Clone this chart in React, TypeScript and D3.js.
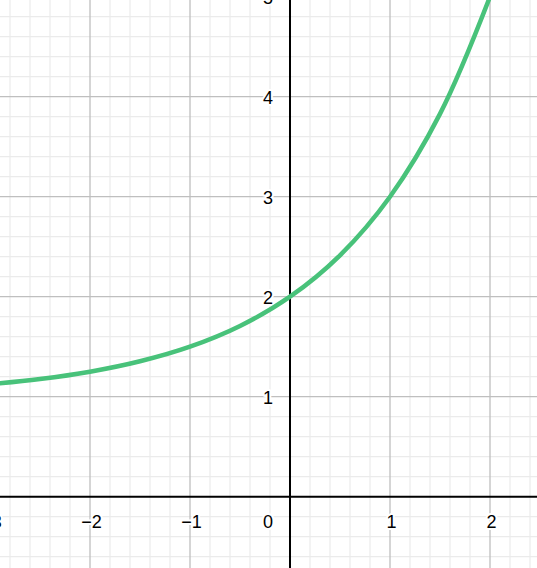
import React from "react";
import * as d3 from "d3";

const W = 537;
const H = 568;

const xTicks = [-3, -2, -1, 1, 2];
const yTicks = [1, 2, 3, 4, 5];
const xTickLabels = ["−3", "−2", "−1", "1", "2"];
const yTickLabels = ["1", "2", "3", "4", "5"];

// Curve points
const curveX = [-3.2, -3, -2.5, -2, -1.5, -1, -0.5, 0, 0.5, 1, 1.5, 2, 2.1];
const curveY = [1.109, 1.125, 1.177, 1.25, 1.354, 1.5, 1.707, 2, 2.414, 3, 3.828, 5, 5.287];

export default function App() {
  const x = d3.scaleLinear().domain([-2.9, 2.47]).range([0, W]);
  const y = d3.scaleLinear().domain([-0.713, 4.967]).range([H, 0]);

  const minorX = d3.range(-15, 13).map((i) => i * 0.2).filter((v) => Math.abs(v - Math.round(v)) > 1e-6);
  const minorY = d3.range(-4, 26).map((i) => i * 0.2).filter((v) => Math.abs(v - Math.round(v)) > 1e-6);
  const majorX = [-3, -2, -1, 1, 2];
  const majorY = [1, 2, 3, 4, 5];

  const pts: [number, number][] = curveX.map((v, i) => [v, curveY[i]]);
  const line = d3
    .line<[number, number]>()
    .x((d) => x(d[0]))
    .y((d) => y(d[1]))
    .curve(d3.curveCatmullRom.alpha(0.5));

  const labelStyle: React.CSSProperties = {
    fontFamily: "'Liberation Sans', Arial, sans-serif",
    fontSize: 18,
    fill: "#000",
    stroke: "#fff",
    strokeWidth: 4,
    paintOrder: "stroke",
    strokeLinejoin: "round",
  };

  return (
    <svg
      width={W}
      height={H}
      style={{ position: "fixed", left: 0, top: 0, background: "#fff" }}
    >
      <rect x={0} y={0} width={W} height={H} fill="#fff" />
      {minorX.map((v) => (
        <line key={"mx" + v} x1={x(v)} x2={x(v)} y1={0} y2={H} stroke="#ebebeb" strokeWidth={1.2} />
      ))}
      {minorY.map((v) => (
        <line key={"my" + v} x1={0} x2={W} y1={y(v)} y2={y(v)} stroke="#ebebeb" strokeWidth={1.2} />
      ))}
      {majorX.map((v) => (
        <line key={"Mx" + v} x1={x(v)} x2={x(v)} y1={0} y2={H} stroke="#bfbfbf" strokeWidth={1.3} />
      ))}
      {majorY.map((v) => (
        <line key={"My" + v} x1={0} x2={W} y1={y(v)} y2={y(v)} stroke="#bfbfbf" strokeWidth={1.3} />
      ))}
      <line x1={0} x2={W} y1={y(0)} y2={y(0)} stroke="#000" strokeWidth={2} />
      <line x1={x(0)} x2={x(0)} y1={0} y2={H} stroke="#000" strokeWidth={2} />

      {xTicks.map((v, i) => (
        <text key={"xl" + v} x={x(v) + 1.5} y={y(0) + 31} textAnchor="middle" style={labelStyle}>
          {xTickLabels[i]}
        </text>
      ))}
      <text x={x(0) - 17} y={y(0) + 31} textAnchor="end" style={labelStyle}>
        0
      </text>
      {yTicks.map((v, i) => (
        <text key={"yl" + v} x={x(0) - 17} y={y(v) + 7} textAnchor="end" style={labelStyle}>
          {yTickLabels[i]}
        </text>
      ))}

      <path d={line(pts) || ""} fill="none" stroke="#48c27a" strokeWidth={4.5} strokeLinecap="round" />
    </svg>
  );
}
